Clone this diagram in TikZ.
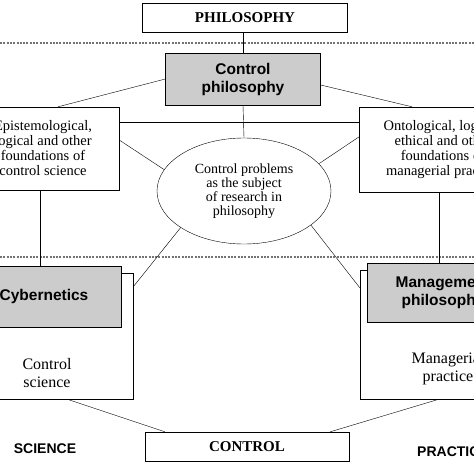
\documentclass[tikz,border=0pt]{standalone}
\usepackage{fontspec}
\setmainfont{Liberation Serif}
\setsansfont{Liberation Sans}
\usetikzlibrary{shapes.geometric,calc,positioning}
\tikzset{
    x=1pt, y=1pt, line width=1.3pt, draw=black!85,
    box/.style ={rectangle, draw, fill=white, align=center, inner sep=0pt, font=\fontsize{14.5}{15}\selectfont},
    greybox/.style = {box, fill=black!20, font=\sffamily\bfseries\fontsize{15.5}{18}\selectfont},
    title/.style = {box, font=\bfseries\fontsize{15}{15}\selectfont},
    txt/.style = {align=center, inner sep=0pt, font=\fontsize{16}{18}\selectfont},
    area/.style = {inner sep=0pt, font=\sffamily\bfseries\fontsize{14}{14}\selectfont},
    sep/.style = {line width=1.4pt, dash pattern=on 2pt off 1.3pt, black!55}
}
\begin{document}
\begin{tikzpicture}
            \useasboundingbox (0,0) rectangle (474,-474);
            \clip (0,0) rectangle (474,-474);
            \fill[white] (0,0) rectangle (474,-474);
            % Levels
            \draw[sep] (0,-43) -- (474,-43);
            \draw[sep] (0,-257) -- (474,-257);
            \node[title,minimum width=205pt,minimum height=29pt] (philo) at (245,-17.5) {PHILOSOPHY};
            \node[greybox,minimum width=155pt,minimum height=52pt] (ctrlphil) at (243,-79) {Control\\philosophy};
            \node[box,minimum width=152pt,minimum height=83pt] (epist) at (43,-148.5) {Epistemological,\\logical and other\\foundations of\\control science};
            \node[box,minimum width=168pt,minimum height=85pt] (ontol) at (443,-149.5) {Ontological, logical,\\ethical and other\\foundations of\\managerial practice};
            \node[ellipse,draw,align=center,inner sep=0pt,minimum width=174pt,minimum height=106pt,
                font=\fontsize{14}{14}\selectfont] (problem) at (244,-191) {Control problems\\as the subject\\of research in\\philosophy};
            % Science and practice
            \node[box,minimum width=172pt,minimum height=126pt] (ctrlsci) at (47,-336) {};
            \node[txt] [above=11pt of ctrlsci.south] {Control\\science};
            \node[greybox,minimum width=154pt,minimum height=61pt] (cyber) at (44,-296.5) {Cybernetics};
            \node[box,minimum width=176pt,minimum height=129pt] (mpract) at (448,-334.5) {};
            \node[txt] [above=14pt of mpract.south] {Managerial\\practice};
            \node[greybox,minimum width=152pt,minimum height=59pt] (mgmt) at (443,-292.5) {Management\\philosophy};
            \node[title,minimum width=204pt,minimum height=29pt] (control) at (247,-446.5) {CONTROL};
            \node[area] (science) at (45,-449) {SCIENCE};
            \node[area,anchor=west] (practice) at (417,-452) {PRACTICE};
            % Draw the links
            \draw (ctrlphil.north) -- (ctrlphil.north |- philo.south);
            \draw (ctrlphil.west) -- ([xshift=15pt]epist.north);
            \draw ([yshift=-6pt]ctrlphil.east) -- ([xshift=-31pt]ontol.north);
            \draw ([yshift=-15pt]epist.north east) -- ([yshift=-15pt]ontol.north west);
            \draw (ctrlphil.south) -- (problem.north);
            \draw ([yshift=8.5pt]epist.east) -- (problem.165);
            \draw ([yshift=12.5pt]ontol.west) -- (problem.20);
            \draw (problem.210) -- ([yshift=-14pt]ctrlsci.north east);
            \draw (problem.333) -- ([yshift=-18pt]mpract.north west);
            \draw ([xshift=-3pt]epist.south) -- ([xshift=-3pt]epist.south |- cyber.north);
            \draw ([xshift=-4pt]ontol.south) -- ([xshift=-4pt]mgmt.north);
            \draw ([yshift=-10.5pt]cyber.east) -- ($(cyber.east)+(0,-10.5)$ -| mgmt.west);
            \draw ([yshift=-19pt]ctrlsci.east) -- ($(ctrlsci.east)+(0,-19)$ -| mpract.west);
            \draw ([xshift=20pt]ctrlsci.south) -- ([xshift=20pt]control.north west);
            \draw ([xshift=-9pt]mpract.south) -- ([xshift=-19pt]control.north east);
\end{tikzpicture}
\end{document}
